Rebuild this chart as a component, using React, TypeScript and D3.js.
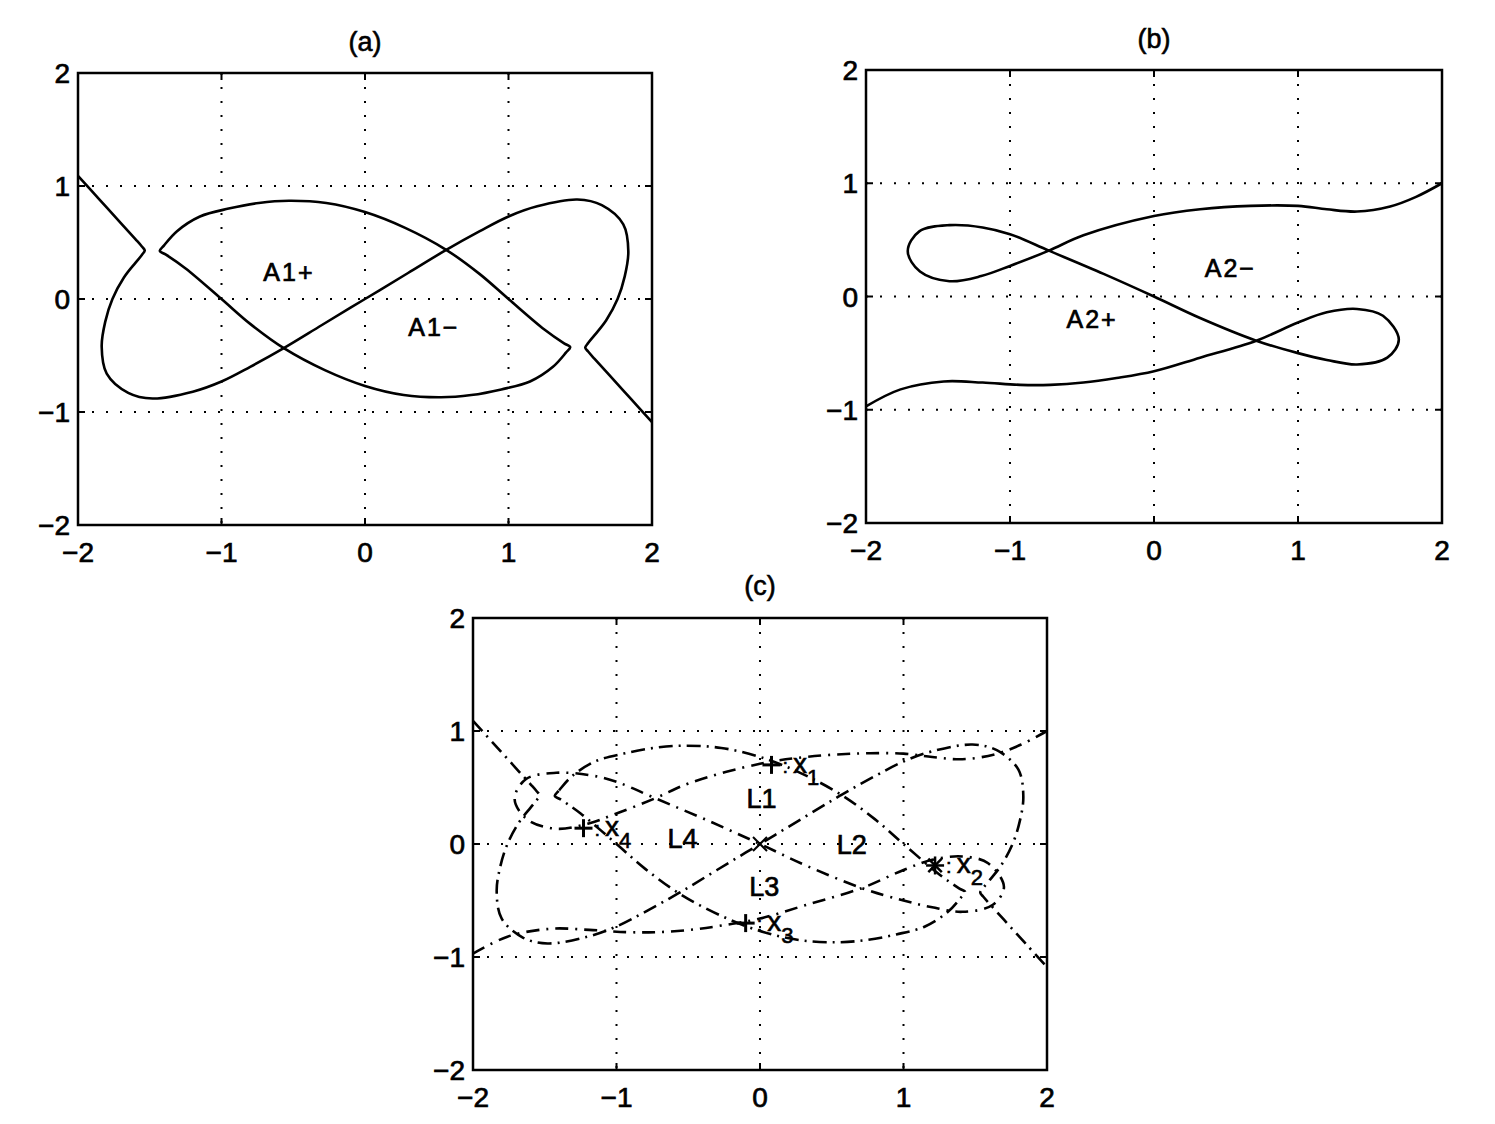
import React from "react";
import * as d3 from "d3";

const ticks = [-2, -1, 0, 1, 2];

// (a) open curve through the two necks
const a1X = [-2, -1.85, -1.7, -1.6, -1.555, -1.535, -1.555, -1.6, -1.68, -1.76, -1.81, -1.835, -1.8, -1.65, -1.48, -1.2, -1.0, -0.8, -0.56, -0.3, 0,
  0.3, 0.56, 0.8, 1.0, 1.2, 1.48, 1.65, 1.8, 1.835, 1.81, 1.76, 1.68, 1.6, 1.555, 1.535, 1.555, 1.6, 1.7, 1.85, 2];
const a1Y = [1.09, 0.88, 0.67, 0.53, 0.465, 0.43, 0.39, 0.32, 0.19, 0.0, -0.2, -0.42, -0.66, -0.83, -0.88, -0.82, -0.73, -0.6, -0.43, -0.23, 0,
  0.23, 0.43, 0.6, 0.73, 0.82, 0.88, 0.83, 0.66, 0.42, 0.2, 0.0, -0.19, -0.32, -0.39, -0.43, -0.465, -0.53, -0.67, -0.88, -1.09];

// (a) closed inner loop
const a2X = [-1.43, -1.4, -1.31, -1.15, -0.95, -0.74, -0.53, -0.27, 0, 0.28, 0.56, 0.8, 1.0, 1.25, 1.39, 1.43,
  1.4, 1.31, 1.15, 0.95, 0.74, 0.53, 0.27, 0, -0.28, -0.56, -0.8, -1.0, -1.25, -1.39];
const a2Y = [0.425, 0.475, 0.6, 0.73, 0.8, 0.85, 0.87, 0.85, 0.77, 0.63, 0.44, 0.22, 0.0, -0.27, -0.395, -0.425,
  -0.475, -0.6, -0.73, -0.8, -0.85, -0.87, -0.85, -0.77, -0.63, -0.44, -0.22, 0.0, 0.27, 0.395];

// (b) figure eight with two tails
const bX = [-2, -1.76, -1.46, -1.19, -0.93, -0.72, -0.49, -0.26, 0, 0.32, 0.71, 1.0, 1.2, 1.41, 1.59, 1.7, 1.62, 1.41, 1.2, 1.0,
  0.71, 0.32, 0, -0.35, -0.73, -1.0, -1.19, -1.42, -1.63, -1.71, -1.625, -1.42, -1.2, -1.0, -0.73, -0.49, 0, 0.32, 0.67, 1.0,
  1.2, 1.41, 1.64, 1.82, 2];
const bY = [-0.97, -0.82, -0.75, -0.76, -0.78, -0.78, -0.76, -0.72, -0.66, -0.54, -0.39, -0.23, -0.14, -0.11, -0.17, -0.38, -0.54, -0.6, -0.56, -0.5,
  -0.39, -0.19, 0.0, 0.2, 0.405, 0.55, 0.61, 0.63, 0.575, 0.4, 0.22, 0.135, 0.18, 0.27, 0.405, 0.54, 0.71, 0.77, 0.8, 0.8,
  0.77, 0.75, 0.795, 0.88, 1.0];

const aLabels = ["A1+", "A1\u2212"];
const aLabelX = [-0.53, 0.48];
const aLabelY = [0.24, -0.25];

const bLabels = ["A2\u2212", "A2+"];
const bLabelX = [0.53, -0.43];
const bLabelY = [0.255, -0.2];

const regionNames = ["L1", "L2", "L3", "L4"];
const regionX = [0.01, 0.64, 0.03, -0.54];
const regionY = [0.41, 0.0, -0.37, 0.05];

const crossIdx = ["1", "2", "3", "4"];
const crossX = [0.08, 1.22, -0.1, -1.23];
const crossY = [0.7, -0.19, -0.7, 0.14];
const crossMark = ["+", "*", "+", "+"];

const FONT = "'Liberation Sans', Arial, sans-serif";

const zip = (xs, ys) => xs.map((x, i) => [x, ys[i]]);

function Frame({ box, title, titleY, children }) {
  const x = d3.scaleLinear().domain([-2, 2]).range([box.x0, box.x1]);
  const y = d3.scaleLinear().domain([-2, 2]).range([box.y1, box.y0]);
  const tk = 7;
  return (
    <g>
      <text x={x(0)} y={titleY} textAnchor="middle" fontFamily={FONT} fontSize={27} stroke="#000" strokeWidth={0.6}>{title}</text>
      {ticks.filter(t => t > -2 && t < 2).map(t => (
        <g key={"g" + t} stroke="#000" strokeWidth={2} strokeDasharray="2,12">
          <line x1={x(t)} x2={x(t)} y1={box.y0} y2={box.y1} />
          <line x1={box.x0} x2={box.x1} y1={y(t)} y2={y(t)} />
        </g>
      ))}
      {ticks.map(t => (
        <g key={"t" + t} stroke="#000" strokeWidth={2}>
          <line x1={x(t)} x2={x(t)} y1={box.y1} y2={box.y1 - tk} />
          <line x1={x(t)} x2={x(t)} y1={box.y0} y2={box.y0 + tk} />
          <line x1={box.x0} x2={box.x0 + tk} y1={y(t)} y2={y(t)} />
          <line x1={box.x1} x2={box.x1 - tk} y1={y(t)} y2={y(t)} />
        </g>
      ))}
      {ticks.map(t => (
        <text key={"xl" + t} x={x(t)} y={box.y1 + 37} textAnchor="middle" fontFamily={FONT} fontSize={28} stroke="#000" strokeWidth={0.7}>
          {d3.format("d")(t)}
        </text>
      ))}
      {ticks.map(t => (
        <text key={"yl" + t} x={box.x0 - 8} y={y(t) + 10} textAnchor="end" fontFamily={FONT} fontSize={28} stroke="#000" strokeWidth={0.7}>
          {d3.format("d")(t)}
        </text>
      ))}
      {children(x, y)}
      <rect x={box.x0} y={box.y0} width={box.x1 - box.x0} height={box.y1 - box.y0} fill="none" stroke="#000" strokeWidth={2.5} />
    </g>
  );
}

const boxA = { x0: 78, x1: 652, y0: 73, y1: 525 };
const boxB = { x0: 866, x1: 1442, y0: 70, y1: 523 };
const boxC = { x0: 473, x1: 1047, y0: 618, y1: 1070 };

function Marker({ cx, cy, kind }) {
  const s = 9;
  if (kind === "*") {
    const d = s * 0.75;
    return (
      <g stroke="#000" strokeWidth={2.5}>
        <line x1={cx - s} x2={cx + s} y1={cy} y2={cy} />
        <line x1={cx} x2={cx} y1={cy - s} y2={cy + s} />
        <line x1={cx - d} x2={cx + d} y1={cy - d} y2={cy + d} />
        <line x1={cx - d} x2={cx + d} y1={cy + d} y2={cy - d} />
      </g>
    );
  }
  if (kind === "x") {
    const d = 7;
    return (
      <g stroke="#000" strokeWidth={2}>
        <line x1={cx - d} x2={cx + d} y1={cy - d} y2={cy + d} />
        <line x1={cx - d} x2={cx + d} y1={cy + d} y2={cy - d} />
      </g>
    );
  }
  return (
    <g stroke="#000" strokeWidth={3}>
      <line x1={cx - s} x2={cx + s} y1={cy} y2={cy} />
      <line x1={cx} x2={cx} y1={cy - s} y2={cy + s} />
    </g>
  );
}

export default function App() {
  const open = (x, y) => d3.line().x(d => x(d[0])).y(d => y(d[1])).curve(d3.curveCatmullRom.alpha(0.5));
  const closed = (x, y) => d3.line().x(d => x(d[0])).y(d => y(d[1])).curve(d3.curveCatmullRomClosed.alpha(0.5));
  const dashDot = "14,6,2,6";

  return (
    <svg width={1495} height={1124} style={{ position: "absolute", left: 0, top: 0, background: "#fff" }}>
      <rect width={1495} height={1124} fill="#fff" />
      <Frame box={boxA} title="(a)" titleY={51}>
        {(x, y) => (
          <g>
            <path d={open(x, y)(zip(a1X, a1Y))} fill="none" stroke="#000" strokeWidth={2.6} />
            <path d={closed(x, y)(zip(a2X, a2Y))} fill="none" stroke="#000" strokeWidth={2.6} />
            {aLabels.map((l, i) => (
              <text key={l} x={x(aLabelX[i])} y={y(aLabelY[i]) + 9} textAnchor="middle" fontFamily={FONT} fontSize={25} letterSpacing={2} stroke="#000" strokeWidth={0.7}>{l}</text>
            ))}
          </g>
        )}
      </Frame>
      <Frame box={boxB} title="(b)" titleY={48}>
        {(x, y) => (
          <g>
            <path d={open(x, y)(zip(bX, bY))} fill="none" stroke="#000" strokeWidth={2.6} />
            {bLabels.map((l, i) => (
              <text key={l} x={x(bLabelX[i])} y={y(bLabelY[i]) + 9} textAnchor="middle" fontFamily={FONT} fontSize={25} letterSpacing={2} stroke="#000" strokeWidth={0.7}>{l}</text>
            ))}
          </g>
        )}
      </Frame>
      <Frame box={boxC} title="(c)" titleY={595}>
        {(x, y) => (
          <g>
            <path d={open(x, y)(zip(a1X, a1Y))} fill="none" stroke="#000" strokeWidth={2.6} strokeDasharray={dashDot} />
            <path d={closed(x, y)(zip(a2X, a2Y))} fill="none" stroke="#000" strokeWidth={2.6} strokeDasharray={dashDot} />
            <path d={open(x, y)(zip(bX, bY))} fill="none" stroke="#000" strokeWidth={2.6} strokeDasharray="13,7,2,7" />
            <Marker cx={x(0)} cy={y(0)} kind="x" />
            {crossIdx.map((n, i) => (
              <g key={n}>
                <Marker cx={x(crossX[i])} cy={y(crossY[i])} kind={crossMark[i]} />
                <text x={x(crossX[i]) + 11} y={y(crossY[i]) + 8} fontFamily={FONT} fontSize={28} stroke="#000" strokeWidth={0.6}>
                  <tspan fontSize={20}>:</tspan>
                  <tspan dx={5}>x</tspan>
                  <tspan dy={12} fontSize={22}>{n}</tspan>
                </text>
              </g>
            ))}
            {regionNames.map((l, i) => (
              <text key={l} x={x(regionX[i])} y={y(regionY[i]) + 10} textAnchor="middle" fontFamily={FONT} fontSize={27} stroke="#000" strokeWidth={0.7}>{l}</text>
            ))}
          </g>
        )}
      </Frame>
    </svg>
  );
}
